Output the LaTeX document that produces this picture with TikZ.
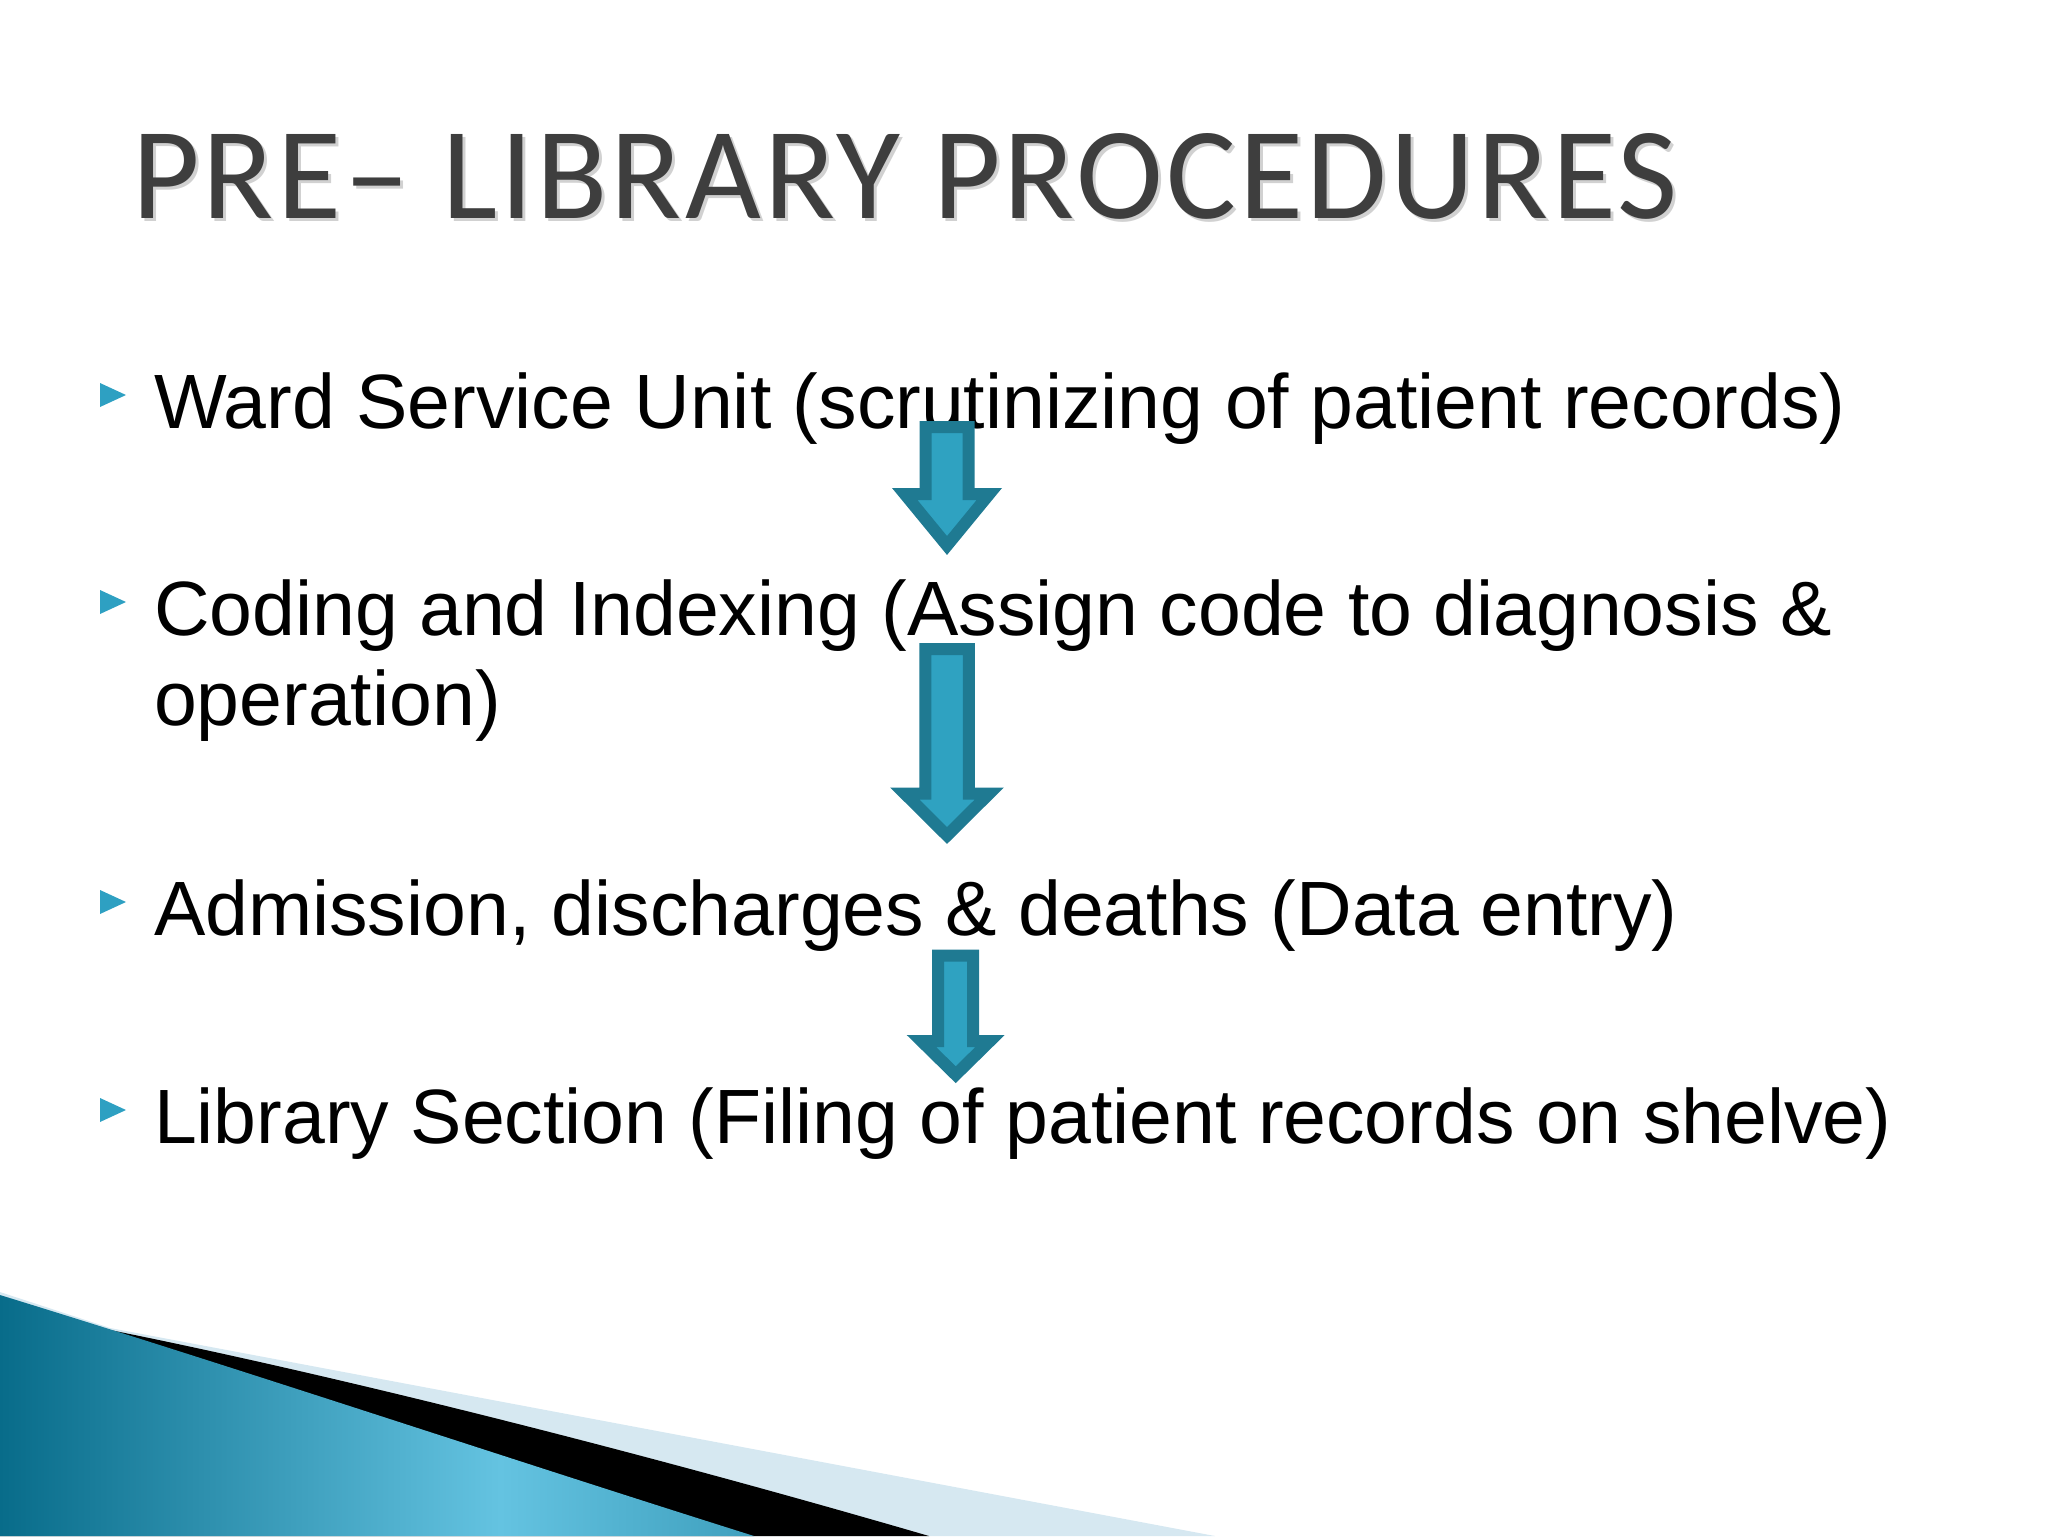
\documentclass[tikz,border=0pt]{standalone}
\usepackage{fontspec}
\setmainfont{Liberation Sans}
\newfontfamily\titlefont[LetterSpace=2.4]{Carlito}
\usepackage{tikz}
\usetikzlibrary{calc,positioning}
\definecolor{BulletTeal}{RGB}{46,160,194}
\definecolor{ArrowFill}{RGB}{47,162,193}
\definecolor{ArrowEdge}{RGB}{31,122,146}
\definecolor{TitleGray}{RGB}{62,62,62}
\definecolor{SwooshPale}{RGB}{214,232,241}
\definecolor{SwooshDark}{RGB}{8,108,138}
\definecolor{SwooshLight}{RGB}{100,195,225}

\begin{document}
\begin{tikzpicture}[x=0.5pt, y=-0.5pt,
       every node/.style={inner sep=0pt, outer sep=0pt},
       slidetitle/.style={anchor=base west, font=\titlefont\fontsize{65.5}{70}\selectfont},
       item/.style={anchor=base west, font=\fontsize{38.5}{45}\selectfont},
       flowarrow/.style={fill=ArrowFill, draw=ArrowEdge, line width=6pt,
                         line join=miter, miter limit=10}]
    \useasboundingbox (0,0) rectangle (2048,1536);

	%% Swoosh in the lower left corner
	\fill[SwooshPale] (0,1292) -- (110,1328) -- (1215,1536) -- (0,1536) -- cycle;
	\fill[black] (110,1330) .. controls (300,1368) and (600,1440) .. (929,1536) -- (0,1536) -- cycle;
	\shade[left color=SwooshDark, right color=SwooshDark!80!SwooshLight, middle color=SwooshLight]
		(0,1295) .. controls (250,1372) and (500,1456) .. (754,1536) -- (0,1536) -- cycle (1000,1536);

	%% Title with its soft shadow
	\node[slidetitle, text=black!30, opacity=.6] (titleshadow) at (135,221) {PRE– LIBRARY PROCEDURES};
	\node[slidetitle, text=TitleGray] (title) at (132,218) {PRE– LIBRARY PROCEDURES};

	%% The four steps
	\node[item] (ward) at (154,428) {Ward Service Unit (scrutinizing of patient records)};
	\node[item] (coding) at (154,635) {Coding and Indexing (Assign code to diagnosis \&};
	\node[item] (codingcont) at ($(coding.base west)+(0,90)$) {operation)};
	\node[item] (admission) at (154,935) {Admission, discharges \& deaths (Data entry)};
	\node[item] (library) at (154,1143) {Library Section (Filing of patient records on shelve)};

	%% Bullets, placed from the step nodes
	\foreach \s in {ward,coding,admission,library}
		\fill[BulletTeal] ($(\s.base west)+(-54,-45)$) -- ++(26,12) -- ++(-26,12) -- cycle;

	%% Block arrows between the steps
	\foreach \n/\x/\top/\sh/\tip/\sw/\hw in {1/947/427/494/545.5/21.5/42.3,
	                                        2/947/649/793.5/835.5/21.75/42.3,
	                                        3/955.7/955.5/1041/1074.7/17.5/34.3}
	{
		\coordinate (stem\n) at (\x,\top);
		\coordinate (tip\n) at (\x,\tip);
		\draw[flowarrow] (stem\n) ++(-\sw,0) -- ++(2*\sw,0) -- ++(0,\sh-\top) -- ++(\hw-\sw,0)
			-- (tip\n) -- ++(-\hw,\sh-\tip) -- ++(\hw-\sw,0) -- cycle;
	}
\end{tikzpicture}
\end{document}
